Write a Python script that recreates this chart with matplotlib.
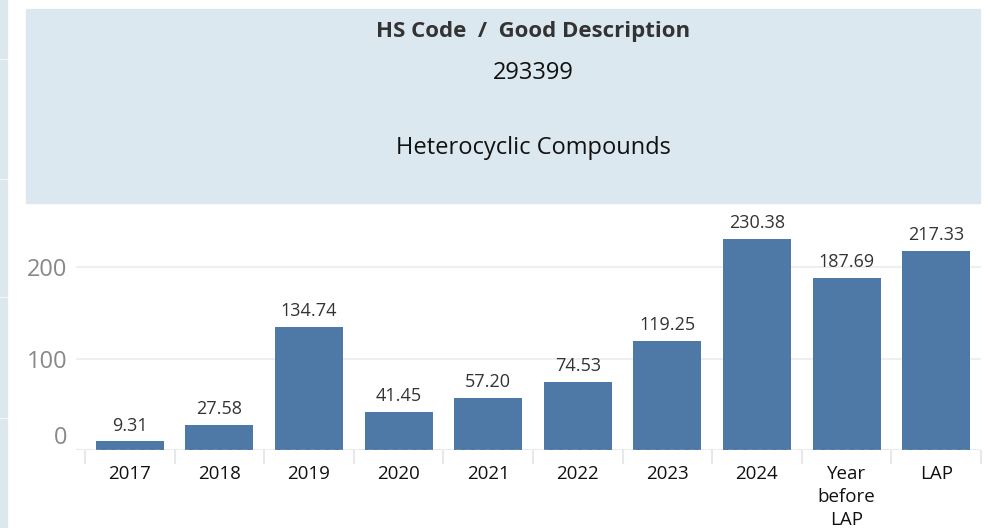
import matplotlib
matplotlib.use('Agg')
import matplotlib.pyplot as plt
from matplotlib.patches import Rectangle
from matplotlib.transforms import ScaledTranslation

# data
categories = ['2017', '2018', '2019', '2020', '2021', '2022', '2023', '2024',
              'Year\nbefore\nLAP', 'LAP']
values = [9.31, 27.58, 134.74, 41.45, 57.20, 74.53, 119.25, 230.38, 187.69, 217.33]
y_ticks = [0, 100, 200]
header_title = 'HS Code  /  Good Description'
hs_code = '293399'
good_description = 'Heterocyclic Compounds'

plt.rcParams['font.family'] = ['Open Sans', 'DejaVu Sans']

W, H = 990, 528
fig = plt.figure(figsize=(W / 100, H / 100), dpi=100)

# left strip of panels (dashboard edge)
for y0, y1 in [(0, 58), (60, 178), (180, 296), (298, 417), (419, 528)]:
    fig.patches.append(Rectangle((0, 1 - y1 / H), 7 / W, (y1 - y0) / H,
                                 transform=fig.transFigure, color='#dde8ee', zorder=0))

# header box
fig.patches.append(Rectangle((26 / W, 1 - 203 / H), (980 - 26) / W, (203 - 9) / H,
                             transform=fig.transFigure, color='#dce8ef', zorder=0))
fig.text(533 / W, 1 - 32 / H, header_title, ha='center', va='center',
         fontsize=16, fontweight='bold', color='#333333')
fig.text(533 / W, 1 - 73 / H, hs_code, ha='center', va='center',
         fontsize=17, color='#111111')
fig.text(533 / W, 1 - 148 / H, good_description, ha='center', va='center',
         fontsize=17, color='#111111')

# chart area
ax_left, ax_right, ax_top, ax_bottom = 76, 981, 205, 450
ax = fig.add_axes([ax_left / W, 1 - ax_bottom / H, (ax_right - ax_left) / W,
                   (ax_bottom - ax_top) / H])
x = list(range(len(categories)))
bars = ax.bar(x, values, width=0.76, color='#4e79a7', zorder=3)
for xi, v in zip(x, values):
    ax.annotate(f'{v:.2f}', (xi, v), xytext=(0, 5), textcoords='offset points',
                ha='center', va='bottom', fontsize=13, color='#333333')

ax.set_xlim(-0.6, len(categories) - 0.5)
ax.set_ylim(0, 268)
ax.set_yticks(y_ticks)
ax.set_yticklabels([str(t) for t in y_ticks])
ax.set_xticks(x)
ax.set_xticklabels(categories, fontsize=13.5, color='#111111', linespacing=1.36,
                   va='top')
ax.set_xticks([i - 0.5 for i in range(len(categories) + 1)], minor=True)
ax.tick_params(axis='x', which='major', length=0, pad=11)
ax.tick_params(axis='x', which='minor', length=10, width=1.5, color='#e8e8e8')
ax.tick_params(axis='y', length=0, pad=6, labelsize=17, labelcolor='#888888')
ax.grid(axis='y', color='#efefef', linewidth=1.5, zorder=0)
ax.axhline(0, color='#cccccc', linewidth=1, linestyle=(0, (4, 3)), zorder=4)
for s in ax.spines.values():
    s.set_visible(False)

# the zero label sits above the baseline, as in the dashboard
zero_lbl = ax.get_yticklabels()[0]
zero_lbl.set_transform(zero_lbl.get_transform()
                       + ScaledTranslation(0, 15 / 100, fig.dpi_scale_trans))

fig.savefig('out.png', dpi=100)
